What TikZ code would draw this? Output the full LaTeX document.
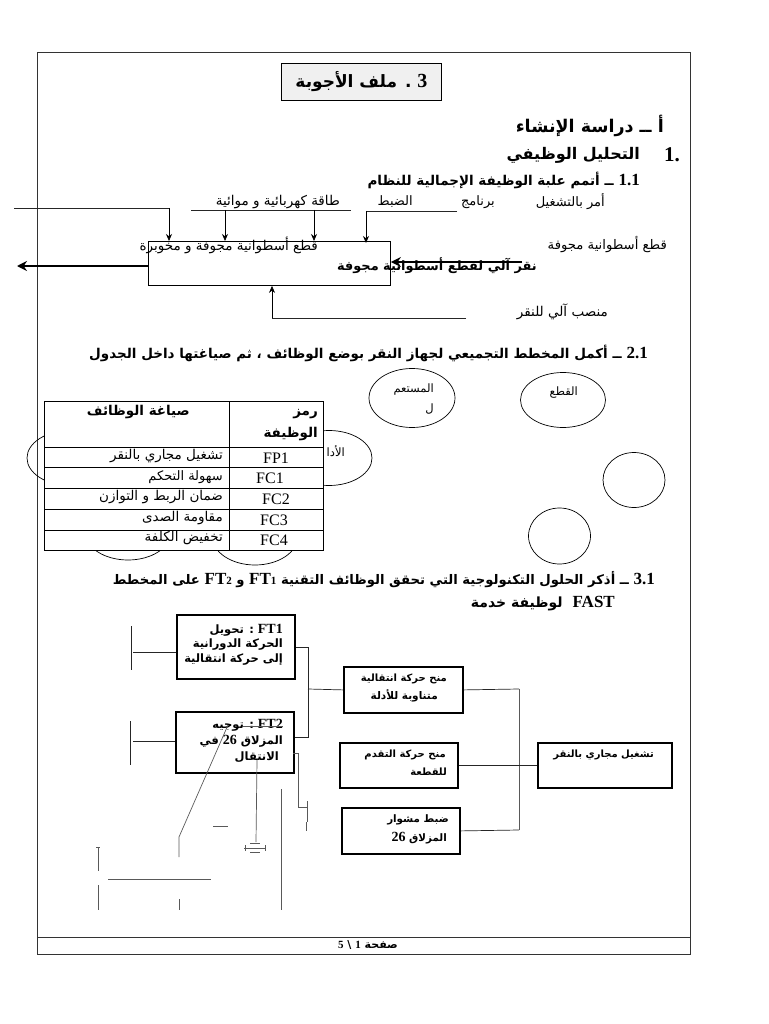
\documentclass[tikz,border=0pt]{standalone}
\usepackage{fontspec}
\TeXXeTstate=1
\setmainfont{Liberation Serif}
\newfontfamily\arabicfont[Script=Arabic]{DejaVu Sans}
\newfontfamily\latinf{Liberation Serif}
\newcommand{\ar}[1]{{\arabicfont\beginR #1\endR}}
\newcommand{\ltn}[1]{{\latinf\beginL #1\endL}}
\newcommand{\sz}[1]{\fontsize{#1}{#1}\selectfont}
\tikzset{
  txt/.style={inner sep=0pt,anchor=east,align=right},
  boldtxt/.style={txt,font=\bfseries},
  box/.style={draw=black,line width=1.8pt,inner sep=0pt,anchor=north west},
  bubble/.style={draw=black,line width=0.7pt,ellipse,inner sep=0pt},
  thin line/.style={draw=black!85,line width=0.7pt},
  sketch/.style={draw=black!65,line width=0.7pt},
  flowarrow/.style={draw=black,line width=0.7pt,-{Stealth[length=7pt,width=6pt]}},
  heavyarrow/.style={draw=black,line width=2.6pt,-{Stealth[length=10pt,width=10pt]}},
  cell/.style={draw=black,line width=1pt,fill=white,inner sep=0pt,anchor=north west}
}
\usetikzlibrary{arrows.meta,shapes.geometric}
\begin{document}
\begin{tikzpicture}[x=1pt,y=-1pt]
\useasboundingbox (0,0) rectangle (768,1024);
\fill[white] (0,0) rectangle (768,1024);
% page frame
\node[draw=black!80,line width=0.9pt,inner sep=0pt,anchor=north west,minimum width=653pt,minimum height=902pt] (frame) at (37,52) {};
\coordinate (footL) at (37,937); \coordinate (footR) at (690,937);
\draw[draw=black!80,line width=0.9pt] (footL) -- (footR);
\node[txt,font=\bfseries\sz{11}] (foot) at (398,945) {\ar{صفحة \ltn{1} \textbackslash{} \ltn{5}}};
% title
\node[draw=black,line width=0.9pt,fill=black!6,inner sep=0pt,anchor=north west,minimum width=160pt,minimum height=37pt,font=\bfseries\sz{17}] (title) at (281,63) {\ar{\ltn{\sz{20}3} . ملف الأجوبة}};
% headings
\node[boldtxt,font=\bfseries\sz{17.5}] (h1) at (664,126) {\ar{أ ــ دراسة الإنشاء}};
\node[boldtxt,font=\bfseries\sz{21}] (h2n) at (680,155) {\ltn{1.}};
\node[boldtxt,font=\bfseries\sz{16}] (h2) at (640,155) {\ar{التحليل الوظيفي}};
\node[boldtxt,font=\bfseries\sz{13.5}] (h3) at (640,180) {\ar{\ltn{\sz{17}1.1} ــ أتمم علبة الوظيفة الإجمالية للنظام}};
% A0 labels
\node[txt,font=\sz{13}] (c1) at (605,202) {\ar{أمر بالتشغيل}};
\node[txt,font=\sz{13}] (c2) at (495,202) {\ar{برنامج}};
\node[txt,font=\sz{13}] (c3) at (413,202) {\ar{الضبط}};
\node[txt,font=\sz{13.5}] (c4) at (340,202) {\ar{طاقة كهربائية  و  موائية}};
% A0 box
\node[draw=black,line width=0.9pt,inner sep=0pt,anchor=north west,minimum width=242pt,minimum height=44pt] (a0) at (148,241) {};
\node[txt,font=\sz{13.5}] (out) at (318,245) {\ar{قطع أسطوانية مجوفة و مخوبرة}};
\node[txt,font=\sz{13.2}] (in) at (667,245) {\ar{قطع أسطوانية مجوفة}};
\node[boldtxt,font=\bfseries\sz{12.9}] (fn) at (537,266) {\ar{نقر آلي لقطع أسطوانية مجوفة}};
\node[txt,font=\sz{13.5}] (mach) at (608,312) {\ar{منصب آلي للنقر}};
% A0 arrows
\coordinate (l1s) at (14,208); \coordinate (l1c) at (169,208); \coordinate (l1e) at (169,241);
\draw[thin line] (l1s) -- (l1c);
\draw[flowarrow] (l1c) -- (l1e);
\coordinate (l2s) at (191,210); \coordinate (l2e) at (351,210);
\coordinate (l2a) at (225,210); \coordinate (l2ae) at (225,241);
\coordinate (l2b) at (314,210); \coordinate (l2be) at (314,241);
\draw[thin line] (l2s) -- (l2e);
\draw[flowarrow] (l2a) -- (l2ae);
\draw[flowarrow] (l2b) -- (l2be);
\coordinate (l3s) at (457,211); \coordinate (l3c) at (366,211); \coordinate (l3e) at (366,243);
\draw[thin line] (l3s) -- (l3c);
\draw[flowarrow] (l3c) -- (l3e);
\coordinate (inS) at (522,262); \coordinate (outE) at (17,266);
\draw[heavyarrow] (inS) -- (a0.east |- inS);
\draw[heavyarrow] (a0.west |- outE) -- (outE);
\coordinate (mS) at (466,318); \coordinate (mC) at (272,318);
\draw[thin line] (mS) -- (mC);
\draw[flowarrow] (mC) -- (mC |- a0.south);
% section 2
\node[boldtxt,font=\bfseries\sz{13.5}] (h4) at (648,353) {\ar{\ltn{\sz{17}2.1} ــ أكمل المخطط التجميعي لجهاز النقر بوضع الوظائف ، ثم صياغتها داخل الجدول}};
% bubbles
\node[bubble,minimum width=86pt,minimum height=59pt] (b1) at (412,398) {};
\node[txt,font=\sz{11.5}] (b1a) at (434,390) {\ar{المستعم}};
\node[txt,font=\sz{11.5}] (b1b) at (434,409) {\ar{ل}};
\node[bubble,minimum width=85pt,minimum height=55pt] (b2) at (563,400) {};
\node[txt,font=\sz{11.5}] (b2t) at (578,393) {\ar{القطع}};
\node[bubble,minimum width=62pt,minimum height=55pt] (b3) at (634,480) {};
\node[bubble,minimum width=62pt,minimum height=56pt] (b4) at (559.5,536) {};
\node[bubble,minimum width=86pt,minimum height=55pt] (b5) at (329,458) {};
\node[txt,font=\sz{11.5}] (b5t) at (345,451) {\ar{الأدا}};
\node[bubble,minimum width=86pt,minimum height=55pt] (b6) at (70,458) {};
\node[bubble,minimum width=86pt,minimum height=56pt] (b7) at (128,532) {};
\node[bubble,minimum width=86pt,minimum height=58pt] (b8) at (255,536) {};
% table
\node[cell,minimum width=185pt,minimum height=46pt] (t0a) at (44,401) {};
\node[cell,minimum width=94pt,minimum height=46pt] (t0b) at (229,401) {};
\node[cell,minimum width=185pt,minimum height=20pt] (t1a) at (44,447) {};
\node[cell,minimum width=94pt,minimum height=20pt] (t1b) at (229,447) {};
\node[cell,minimum width=185pt,minimum height=21pt] (t2a) at (44,467) {};
\node[cell,minimum width=94pt,minimum height=21pt] (t2b) at (229,467) {};
\node[cell,minimum width=185pt,minimum height=21pt] (t3a) at (44,488) {};
\node[cell,minimum width=94pt,minimum height=21pt] (t3b) at (229,488) {};
\node[cell,minimum width=185pt,minimum height=21pt] (t4a) at (44,509) {};
\node[cell,minimum width=94pt,minimum height=21pt] (t4b) at (229,509) {};
\node[cell,minimum width=185pt,minimum height=20pt] (t5a) at (44,530) {};
\node[cell,minimum width=94pt,minimum height=20pt] (t5b) at (229,530) {};
\node[boldtxt,font=\bfseries\sz{13.5}] (th1) at (190,412) {\ar{صياغة الوظائف}};
\node[boldtxt,font=\bfseries\sz{13.5}] (th2) at (318,414) {\ar{رمز}};
\node[boldtxt,font=\bfseries\sz{13.5}] (th3) at (318,434) {\ar{الوظيفة}};
\node[txt,font=\sz{13.5}] (r1) at (223,456) {\ar{تشغيل مجاري بالنقر}};
\node[txt,font=\sz{13}] (r2) at (223,477) {\ar{سهولة التحكم}};
\node[txt,font=\sz{13.5}] (r3) at (223,497) {\ar{ضمان الربط و التوازن}};
\node[txt,font=\sz{13.5}] (r4) at (223,518) {\ar{مقاومة الصدى}};
\node[txt,font=\sz{13.5}] (r5) at (223,538) {\ar{تخفيض  الكلفة}};
\node[inner sep=0pt,font=\sz{16}] (k1) at (276,458) {FP1};
\node[inner sep=0pt,font=\sz{16}] (k2) at (270,478) {FC1};
\node[inner sep=0pt,font=\sz{16}] (k3) at (276,499) {FC2};
\node[inner sep=0pt,font=\sz{16}] (k4) at (274,520) {FC3};
\node[inner sep=0pt,font=\sz{16}] (k5) at (274,540) {FC4};
% section 3
\node[boldtxt,font=\bfseries\sz{13.2}] (h5) at (655,580) {\ar{\ltn{\sz{17}3.1} ــ أذكر الحلول التكنولوجية التي تحقق الوظائف التقنية \ltn{\sz{17}FT{\sz{11}1}} و \ltn{\sz{17}FT{\sz{11}2}} على المخطط}};
\node[boldtxt,font=\bfseries\sz{14}] (h6) at (615,604) {\ar{\ltn{\sz{17}FAST}\hspace{10pt}لوظيفة خدمة}};
% FAST boxes
\node[box,minimum width=118pt,minimum height=64pt] (ft1) at (176,614) {};
\node[box,minimum width=118pt,minimum height=61pt] (ft2) at (175,711) {};
\node[box,minimum width=119pt,minimum height=46pt] (fs1) at (343,666) {};
\node[box,minimum width=118pt,minimum height=45pt] (fs2) at (339,742) {};
\node[box,minimum width=118pt,minimum height=46pt] (fs3) at (341,807) {};
\node[box,minimum width=134pt,minimum height=45pt] (fp) at (537,742) {};
\node[boldtxt,font=\bfseries\sz{11.5}] (ft1a) at (283,630) {\ar{\ltn{\sz{14}FT1} : تحويل}};
\node[boldtxt,font=\bfseries\sz{11.5}] (ft1b) at (283,645) {\ar{الحركة الدورانية}};
\node[boldtxt,font=\bfseries\sz{11.5}] (ft1c) at (283,660) {\ar{إلى حركة انتقالية}};
\node[boldtxt,font=\bfseries\sz{11.5}] (ft2a) at (283,725) {\ar{\ltn{\sz{14}FT2} : توجيه}};
\node[boldtxt,font=\bfseries\sz{11.5}] (ft2b) at (283,741) {\ar{المزلاق \ltn{\sz{14}26} في}};
\node[boldtxt,font=\bfseries\sz{11.5}] (ft2c) at (279,757) {\ar{الانتقال}};
\node[boldtxt,font=\bfseries\sz{10}] (fs1a) at (447,679) {\ar{منح حركة انتقالية}};
\node[boldtxt,font=\bfseries\sz{10.5}] (fs1b) at (438,696) {\ar{متناوبة  للأدلة}};
\node[boldtxt,font=\bfseries\sz{10}] (fs2a) at (446,755) {\ar{منح حركة التقدم}};
\node[boldtxt,font=\bfseries\sz{10}] (fs2b) at (447,772) {\ar{للقطعة}};
\node[boldtxt,font=\bfseries\sz{10.3}] (fs3a) at (449,820) {\ar{ضبط مشوار}};
\node[boldtxt,font=\bfseries\sz{10.3}] (fs3b) at (447,838) {\ar{المزلاق  \ltn{\sz{14}26}}};
\node[boldtxt,font=\bfseries\sz{10}] (fpt) at (654,755) {\ar{تشغيل مجاري بالنقر}};
% FAST connectors
\coordinate (busL) at (308,689);
\coordinate (busR) at (519,689);
\coordinate (busRb) at (519,830);
\draw[thin line] (ft1.east) -| (busL);
\draw[thin line] ([yshift=5pt]ft2.east) -| (busL);
\draw[thin line] (busL) -- (fs1.west);
\draw[thin line] (fs1.east) -- (busR);
\draw[draw=black!65,line width=1pt] (busR) -- (busRb);
\draw[thin line] (fs2.east) -- (fp.west);
\draw[thin line] (fs3.east) -- (busRb);
% left ticks
\coordinate (t1a') at (131,626); \coordinate (t1b') at (131,670); \coordinate (t1m) at (133,652);
\coordinate (t2a') at (130,721); \coordinate (t2b') at (130,765); \coordinate (t2m) at (133,741);
\draw[thin line] (t1a') -- (t1b');
\draw[thin line] (t1m) -- (t1m -| ft1.west);
\draw[thin line] (t2a') -- (t2b');
\draw[thin line] (t2m) -- (t2m -| ft2.west);
% sketchy remains
\draw[sketch] (243,726) -- (283,726);
\draw[sketch] (228,725) -- (179,837) -- (179,857);
\draw[sketch] (179,899) -- (179,910);
\draw[sketch] (257,760) -- (256,842);
\draw[sketch] (250,843) -- (260,843) (244,848) -- (265,848) (250,852) -- (260,852) (245,845) -- (245,851) (265,845) -- (265,851);
\draw[sketch] (293,753) -- (298,753) -- (298,807) -- (307,807);
\draw[sketch] (307,801) -- (307,822) (306,822) -- (306,831);
\draw[sketch] (213,826) -- (228,826);
\draw[sketch] (281,789) -- (281,910);
\draw[sketch] (96,847) -- (100,847) (98,847) -- (98,871) (98,885) -- (98,910);
\draw[sketch] (108,879) -- (211,879);
\end{tikzpicture}
\end{document}
